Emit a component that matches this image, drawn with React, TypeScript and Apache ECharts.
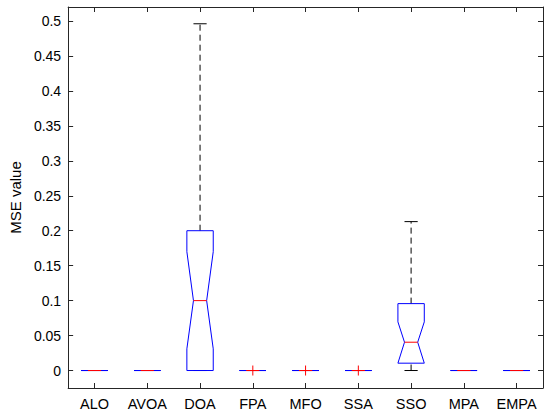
import React, { useEffect, useRef } from "react";
import * as echarts from "echarts";

const categories = ["ALO", "AVOA", "DOA", "FPA", "MFO", "SSA", "SSO", "MPA", "EMPA"];
const lowerWhisker = [0, 0, 0, 0, 0, 0, 0, 0, 0];
const q1 = [0, 0, 0, 0, 0, 0, 0.0105, 0, 0];
const notchLow = [0, 0, 0.031, 0, 0, 0, 0.0105, 0, 0];
const medians = [0, 0, 0.1, 0, 0, 0, 0.0405, 0, 0];
const notchHigh = [0, 0, 0.17, 0, 0, 0, 0.0696, 0, 0];
const q3 = [0, 0, 0.2, 0, 0, 0, 0.0957, 0, 0];
const upperWhisker = [0, 0, 0.496, 0, 0, 0, 0.213, 0, 0];
const outlierCategory = [4, 5, 6];
const outlierValue = [0, 0, 0];
const yTicks = [0, 0.05, 0.1, 0.15, 0.2, 0.25, 0.3, 0.35, 0.4, 0.45, 0.5];
const xTicks = [1, 2, 3, 4, 5, 6, 7, 8, 9];

const AXIS = "#262626";
const FONT = "Liberation Sans, Arial, sans-serif";

export default function App() {
  const ref = useRef<HTMLDivElement>(null);
  useEffect(() => {
    if (!ref.current) return;
    const chart = echarts.init(ref.current, undefined, { renderer: "svg" });
    const boxData = categories.map((_, i) => [
      i + 1,
      lowerWhisker[i],
      q1[i],
      notchLow[i],
      medians[i],
      notchHigh[i],
      q3[i],
      upperWhisker[i],
    ]);
    const outData = outlierCategory.map((c, i) => [c, outlierValue[i]]);
    const halfW = 0.25;
    const notchW = 0.125;
    const capW = 0.125;

    const xAxisBase = {
      type: "value",
      min: 0.5,
      max: 9.5,
      splitLine: { show: false },
      axisLine: { show: true, onZero: false, lineStyle: { color: AXIS, width: 1 } },
    };
    const yAxisBase = {
      type: "value",
      min: -0.025,
      max: 0.52,
      splitLine: { show: false },
      axisLine: { show: true, onZero: false, lineStyle: { color: AXIS, width: 1 } },
    };

    chart.setOption({
      animation: false,
      backgroundColor: "#ffffff",
      grid: { left: 61, top: 7, right: 7, bottom: 27, containLabel: false },
      xAxis: [
        {
          ...xAxisBase,
          position: "bottom",
          axisTick: { show: true, inside: true, length: 5, customValues: xTicks, lineStyle: { color: AXIS } },
          axisLabel: {
            show: true,
            customValues: xTicks,
            formatter: (v: number) => categories[Math.round(v) - 1] || "",
            color: "#000",
            fontSize: 14.5,
            fontFamily: FONT,
            margin: 8,
          },
        },
        {
          ...xAxisBase,
          position: "top",
          axisTick: { show: true, inside: true, length: 5, customValues: xTicks, lineStyle: { color: AXIS } },
          axisLabel: { show: false },
        },
      ],
      yAxis: [
        {
          ...yAxisBase,
          position: "left",
          name: "MSE value",
          nameLocation: "middle",
          nameGap: 44,
          nameTextStyle: { color: "#000", fontSize: 15, fontFamily: FONT },
          axisTick: { show: true, inside: true, length: 5, customValues: yTicks, lineStyle: { color: AXIS } },
          axisLabel: {
            show: true,
            customValues: yTicks,
            formatter: (v: number) => String(parseFloat(v.toFixed(3))),
            color: "#000",
            fontSize: 14,
            fontFamily: FONT,
            margin: 7,
          },
        },
        {
          ...yAxisBase,
          position: "right",
          axisTick: { show: true, inside: true, length: 5, customValues: yTicks, lineStyle: { color: AXIS } },
          axisLabel: { show: false },
        },
      ],
      series: [
        {
          type: "custom",
          xAxisIndex: 0,
          yAxisIndex: 0,
          data: boxData,
          renderItem: (params: any, api: any) => {
            const x = api.value(0);
            const lw = api.value(1);
            const b1 = api.value(2);
            const nl = api.value(3);
            const md = api.value(4);
            const nh = api.value(5);
            const b3 = api.value(6);
            const uw = api.value(7);
            const c = (xx: number, yy: number) => api.coord([xx, yy]);
            const dashStyle = { stroke: "#000", lineWidth: 1, lineDash: [6, 4], fill: "none" };
            const solid = { stroke: "#000", lineWidth: 1, fill: "none" };
            const p = (a: number[], b: number[]) => ({ x1: a[0], y1: a[1], x2: b[0], y2: b[1] });
            const children: any[] = [];
            if (uw > b3) {
              children.push({ type: "line", shape: p(c(x, b3), c(x, uw)), style: dashStyle });
            }
            if (lw < b1) {
              children.push({ type: "line", shape: p(c(x, lw), c(x, b1)), style: dashStyle });
            }
            children.push({ type: "line", shape: p(c(x - capW, uw), c(x + capW, uw)), style: solid });
            children.push({ type: "line", shape: p(c(x - capW, lw), c(x + capW, lw)), style: solid });
            children.push({
              type: "polygon",
              shape: {
                points: [
                  c(x - halfW, b1),
                  c(x - halfW, nl),
                  c(x - notchW, md),
                  c(x - halfW, nh),
                  c(x - halfW, b3),
                  c(x + halfW, b3),
                  c(x + halfW, nh),
                  c(x + notchW, md),
                  c(x + halfW, nl),
                  c(x + halfW, b1),
                ],
              },
              style: { stroke: "#0000ff", lineWidth: 1, fill: "none" },
            });
            children.push({
              type: "line",
              shape: p(c(x - notchW, md), c(x + notchW, md)),
              style: { stroke: "#ff0000", lineWidth: 1 },
            });
            return { type: "group", children };
          },
          z: 2,
        },
        {
          type: "custom",
          xAxisIndex: 0,
          yAxisIndex: 0,
          data: outData,
          renderItem: (params: any, api: any) => {
            const pt = api.coord([api.value(0), api.value(1)]);
            const s = 5;
            return {
              type: "group",
              children: [
                { type: "line", shape: { x1: pt[0] - s, y1: pt[1], x2: pt[0] + s, y2: pt[1] }, style: { stroke: "#ff0000", lineWidth: 1 } },
                { type: "line", shape: { x1: pt[0], y1: pt[1] - s, x2: pt[0], y2: pt[1] + s }, style: { stroke: "#ff0000", lineWidth: 1 } },
              ],
            };
          },
          z: 3,
        },
      ],
    });
    return () => chart.dispose();
  }, []);
  return <div ref={ref} style={{ position: "fixed", left: 0, top: 0, width: 550, height: 415 }} />;
}
